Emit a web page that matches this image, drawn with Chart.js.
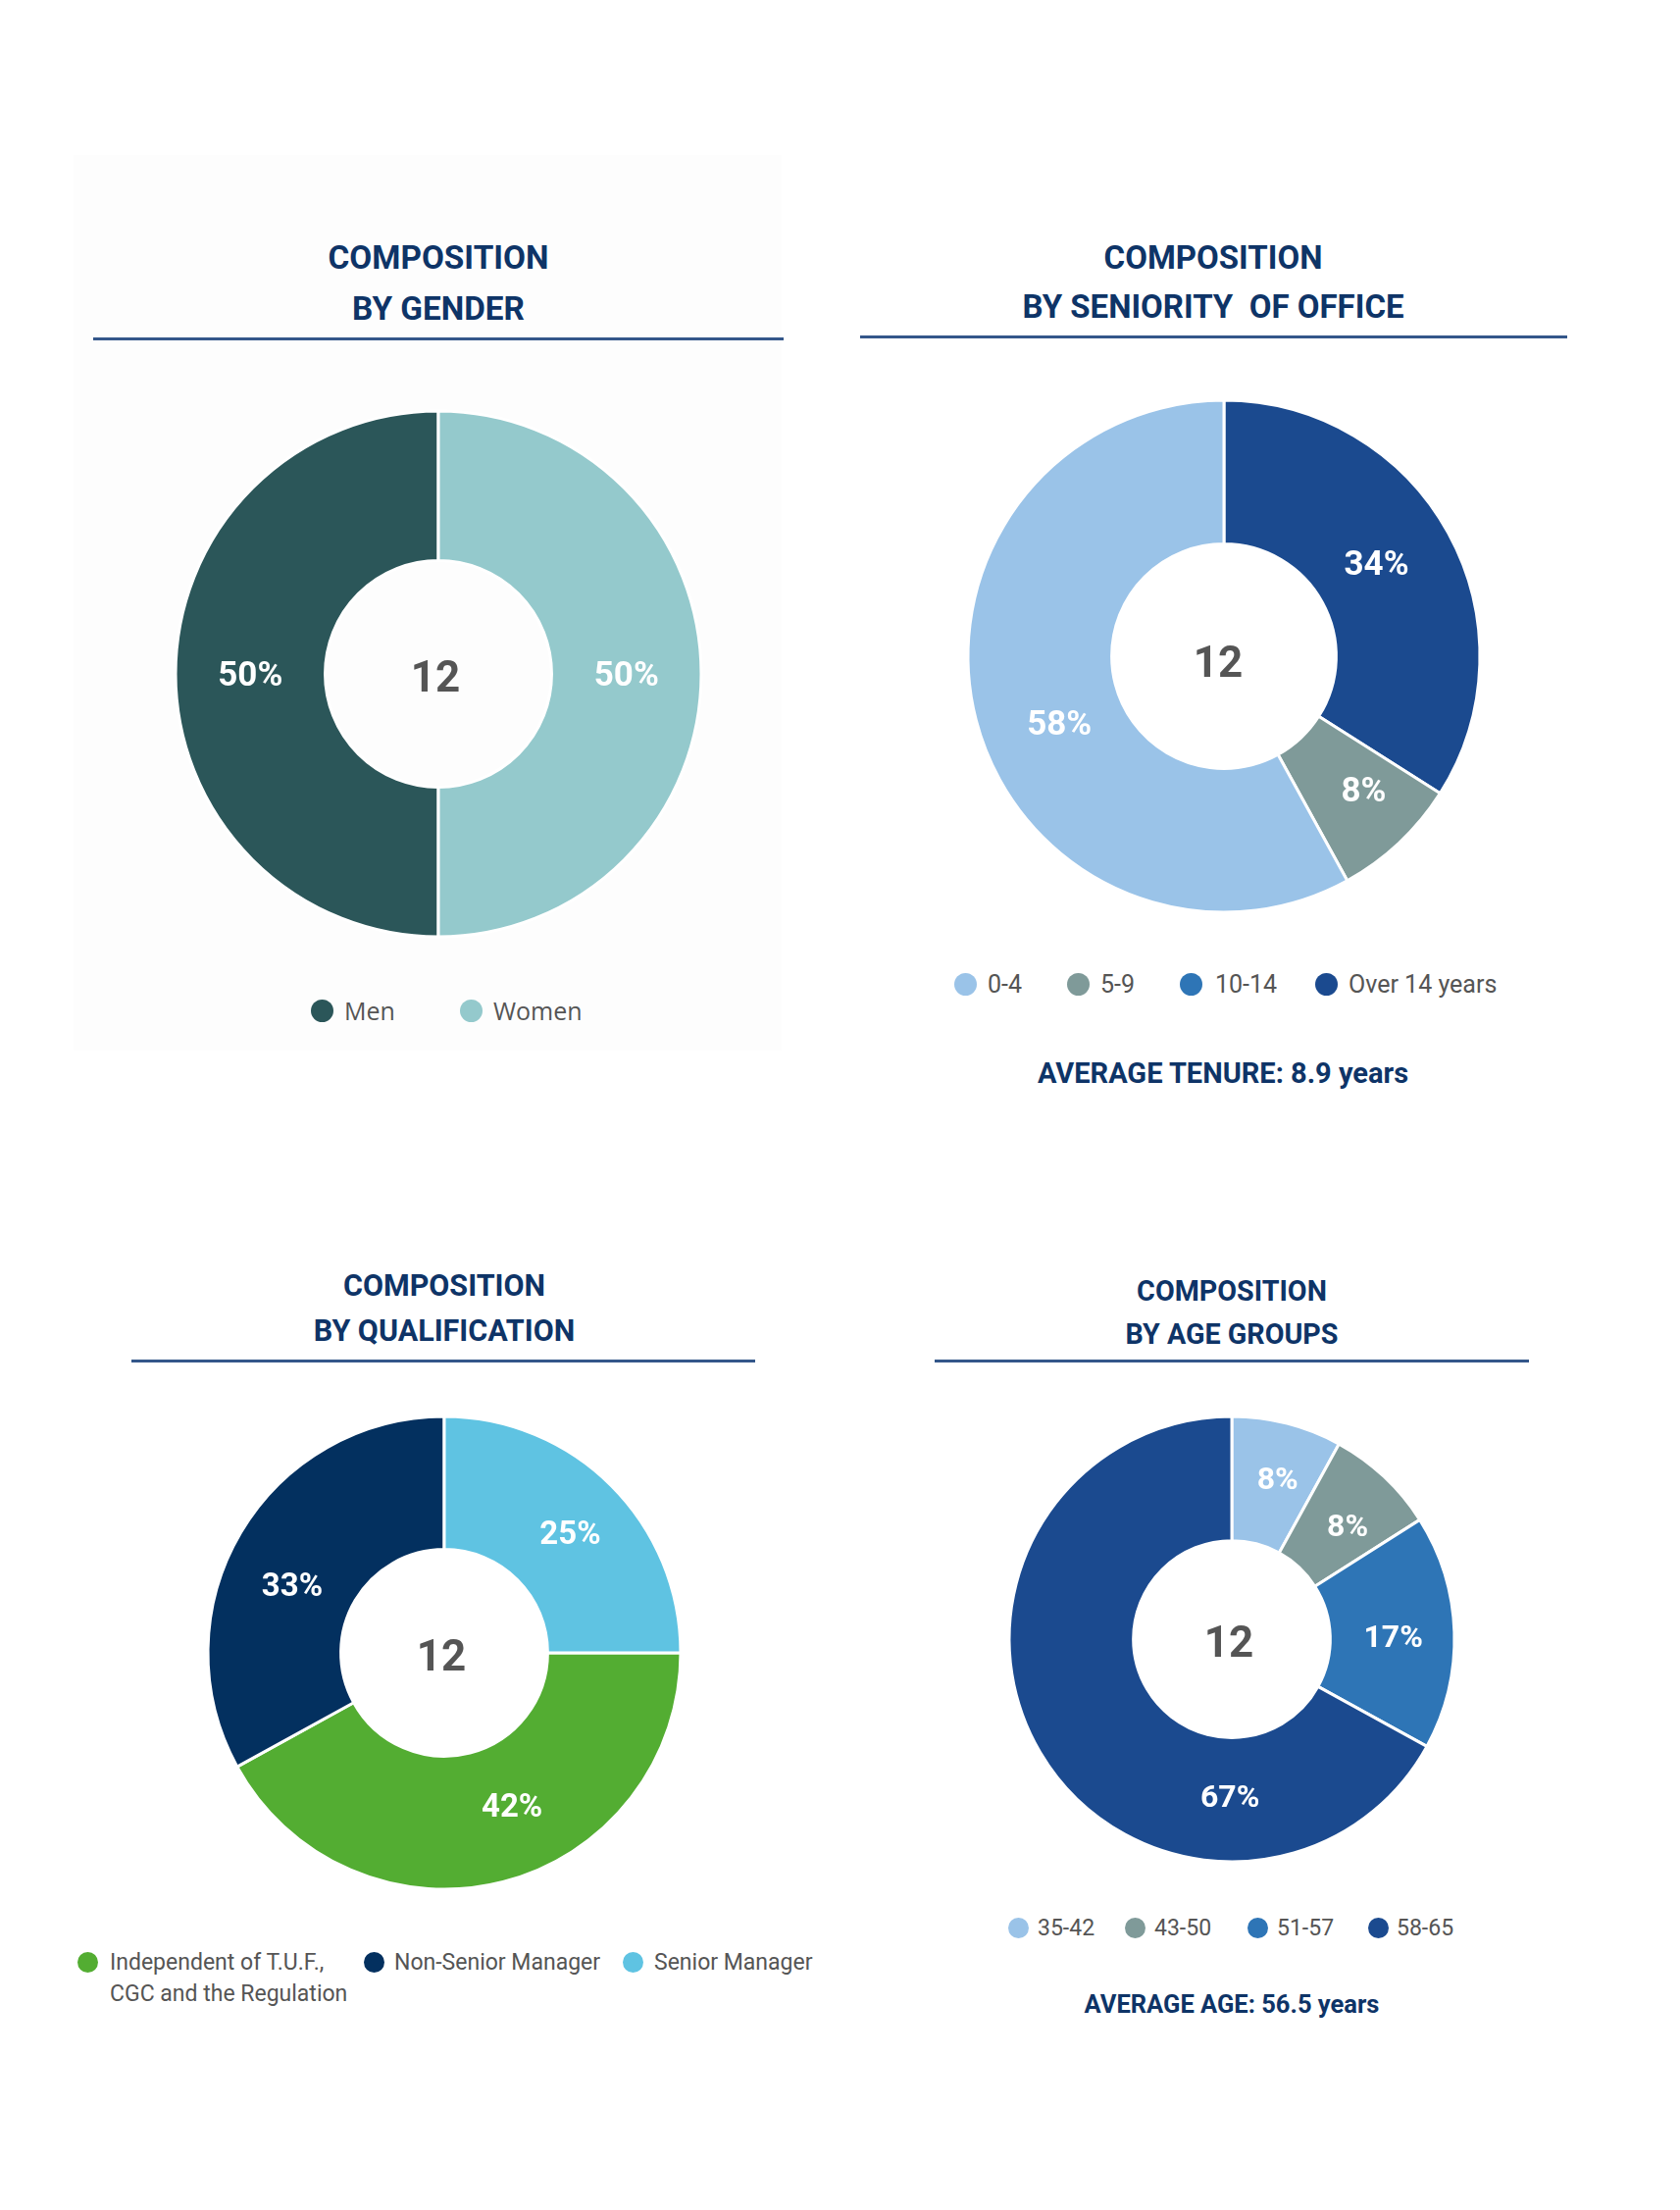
<!DOCTYPE html>
<html><head><meta charset="utf-8">
<script src="https://cdn.jsdelivr.net/npm/chart.js@4.4.1/dist/chart.umd.min.js"></script>
<style>
html,body{margin:0;padding:0;background:#fff;}
#page{position:relative;width:1713px;height:2253px;overflow:hidden;background:#fff;font-family:Roboto,"Open Sans",sans-serif;}
.title{position:absolute;color:#0e3467;font-weight:700;text-align:center;white-space:nowrap;transform:translateX(-50%);}
.rule{position:absolute;height:3px;background:#34578a;}
.dot{position:absolute;border-radius:50%;}
.ltxt{position:absolute;color:#555;white-space:nowrap;line-height:1;transform:translateY(-50%);}
.note{position:absolute;color:#0e3467;font-weight:700;white-space:nowrap;line-height:1;transform:translate(-50%,-50%);}
canvas{position:absolute;}
#panel{position:absolute;left:75px;top:158px;width:722px;height:913px;background:#fdfdfd;}
</style></head>
<body><div id="page"><div id="panel"></div></div>
<script>
// ---------- data ----------
const boardMembers = 12;

const genderLabels = ['Men', 'Women'];
const genderValues = [50, 50];
const genderColors = ['#2b5659', '#94c9cc'];

const seniorityLabels = ['0-4', '5-9', '10-14', 'Over 14 years'];
const seniorityValues = [58, 8, 0, 34];
const seniorityColors = ['#9ac3e8', '#7f9a99', '#2e75b6', '#1b4a8f'];

const qualificationLabels = ['Independent of T.U.F.,\nCGC and the Regulation', 'Non-Senior Manager', 'Senior Manager'];
const qualificationValues = [42, 33, 25];
const qualificationColors = ['#53ad32', '#03305f', '#5fc3e2'];

const ageLabels = ['35-42', '43-50', '51-57', '58-65'];
const ageValues = [8, 8, 17, 67];
const ageColors = ['#9ac3e8', '#7f9a99', '#2e75b6', '#1b4a8f'];

const tenureNote = 'AVERAGE TENURE: 8.9 years';
const ageNote = 'AVERAGE AGE: 56.5 years';

// ---------- layout (label nudges in px, per slice in drawing order) ----------
const genderLabelShift = [[0, 1], [0, 1]];
const seniorityLabelShift = [[-9, -3], [0, 0], [14, 0], [14, 23]]; // reversed drawing order
const qualificationLabelShift = [[26, -11], [-6, 20], [6, 1]];
const ageLabelShift = [[6, -4], [6, 4], [1, 3], [139, 78]];

const page = document.getElementById('page');

function addTitle(lines, cx, y1, lh, size){
  const d = document.createElement('div');
  d.className = 'title';
  d.style.left = cx + 'px';
  d.style.top = (y1 - lh/2) + 'px';
  d.style.lineHeight = lh + 'px';
  d.style.fontSize = size + 'px';
  d.innerHTML = lines.map(s => s.replace(/ /g,'&nbsp;')).join('<br>');
  page.appendChild(d);
}
function addRule(x1, x2, y){
  const d = document.createElement('div');
  d.className = 'rule';
  d.style.left = x1 + 'px'; d.style.width = (x2 - x1) + 'px'; d.style.top = (y - 1) + 'px';
  page.appendChild(d);
}
function addLegend(labels, colors, dotX, txtX, cy, dia, size, family, lineGap){
  labels.forEach((lab, i) => {
    const dot = document.createElement('div');
    dot.className = 'dot';
    dot.style.width = dia + 'px'; dot.style.height = dia + 'px';
    dot.style.left = (dotX[i] - dia/2) + 'px'; dot.style.top = (cy - dia/2) + 'px';
    dot.style.background = colors[i];
    page.appendChild(dot);
    lab.split('\n').forEach((ln, k) => {
      const t = document.createElement('div');
      t.className = 'ltxt';
      t.textContent = ln;
      t.style.left = txtX[i] + 'px';
      t.style.top = (cy + k * lineGap) + 'px';
      t.style.fontSize = size + 'px';
      t.style.fontFamily = family;
      page.appendChild(t);
    });
  });
}
function addNote(text, cx, cy, size){
  const d = document.createElement('div');
  d.className = 'note';
  d.textContent = text;
  d.style.left = cx + 'px'; d.style.top = cy + 'px'; d.style.fontSize = size + 'px';
  page.appendChild(d);
}

const sliceLabels = {
  id: 'sliceLabels',
  afterDatasetsDraw(chart, args, opts){
    const ctx = chart.ctx;
    const meta = chart.getDatasetMeta(0);
    const ds = chart.data.datasets[0];
    const shift = opts.shift || [];
    ctx.save();
    ctx.textAlign = 'center';
    ctx.textBaseline = 'middle';
    ctx.font = opts.font;
    ctx.fillStyle = '#ffffff';
    meta.data.forEach((arc, i) => {
      const v = ds.data[i];
      if (!v) return;
      const p = arc.getProps(['x','y','startAngle','endAngle','innerRadius','outerRadius'], true);
      const a = (p.startAngle + p.endAngle) / 2;
      const r = (p.innerRadius + p.outerRadius) / 2;
      const s = shift[i] || [0, 0];
      ctx.fillText(v + '%', p.x + Math.cos(a) * r + s[0], p.y + Math.sin(a) * r + 2 + s[1]);
    });
    const c = meta.data[0];
    const co = opts.centerShift || [0, 0];
    ctx.font = opts.centerFont;
    ctx.fillStyle = '#555555';
    ctx.fillText(String(opts.centerText), c.x + co[0], c.y + co[1]);
    ctx.restore();
  }
};

function addDonut(labels, values, colors, cx, cy, R, r, rotation, labelSize, shift, centerShift){
  const pad = 12;
  const cv = document.createElement('canvas');
  const size = 2 * (R + pad);
  cv.width = size; cv.height = size;
  cv.style.width = size + 'px'; cv.style.height = size + 'px';
  cv.style.left = (cx - size/2) + 'px'; cv.style.top = (cy - size/2) + 'px';
  page.appendChild(cv);
  new Chart(cv, {
    type: 'doughnut',
    data: { labels: labels, datasets: [{ data: values, backgroundColor: colors, borderColor: '#ffffff', borderWidth: 3 }] },
    options: {
      responsive: false, maintainAspectRatio: false, animation: false,
      radius: R, cutout: r, rotation: rotation,
      layout: { padding: 0 },
      plugins: {
        legend: { display: false }, tooltip: { enabled: false },
        sliceLabels: { font: '700 ' + labelSize + 'px Roboto', centerFont: '700 44px Roboto', centerText: boardMembers, shift: shift, centerShift: centerShift }
      }
    },
    plugins: [sliceLabels]
  });
}

// Gender
addTitle(['COMPOSITION', 'BY GENDER'], 447, 263, 52, 33.3);
addRule(95, 799, 345);
addDonut(genderLabels, genderValues, genderColors, 447, 687, 268, 120, 180, 35, genderLabelShift, [-3, 7]);
addLegend(genderLabels, genderColors, [328, 480], [351, 503], 1030, 23, 25, '"Open Sans"', 31);

// Seniority (drawn counter-clockwise in the original: reverse order, clockwise)
addTitle(['COMPOSITION', 'BY SENIORITY  OF OFFICE'], 1237, 263, 50, 33);
addRule(877, 1598, 343);
addDonut(seniorityLabels.slice().reverse(), seniorityValues.slice().reverse(), seniorityColors.slice().reverse(), 1248, 669, 261, 119, 0, 35, seniorityLabelShift, [-6, 10]);
addLegend(seniorityLabels, seniorityColors, [984, 1099, 1214, 1352], [1007, 1122, 1239, 1375], 1003, 23, 25, 'Roboto', 31);
addNote(tenureNote, 1247, 1094, 29);

// Qualification
addTitle(['COMPOSITION', 'BY QUALIFICATION'], 453, 1311, 46, 30.5);
addRule(134, 770, 1387);
addDonut(qualificationLabels, qualificationValues, qualificationColors, 453, 1685, 241, 110, 90, 33, qualificationLabelShift, [-3, 7]);
addLegend(qualificationLabels, qualificationColors, [89, 381, 645], [112, 402, 667], 2000, 21, 23, 'Roboto', 32);

// Age
addTitle(['COMPOSITION', 'BY AGE GROUPS'], 1256, 1316, 44, 28.7);
addRule(953, 1559, 1387);
addDonut(ageLabels, ageValues, ageColors, 1256, 1671, 227, 105, 0, 32, ageLabelShift, [-3, 7]);
addLegend(ageLabels, ageColors, [1038, 1157, 1282, 1405], [1058, 1177, 1302, 1424], 1965, 21, 23, 'Roboto', 31);
addNote(ageNote, 1256, 2044, 25.5);
</script>
</body></html>
